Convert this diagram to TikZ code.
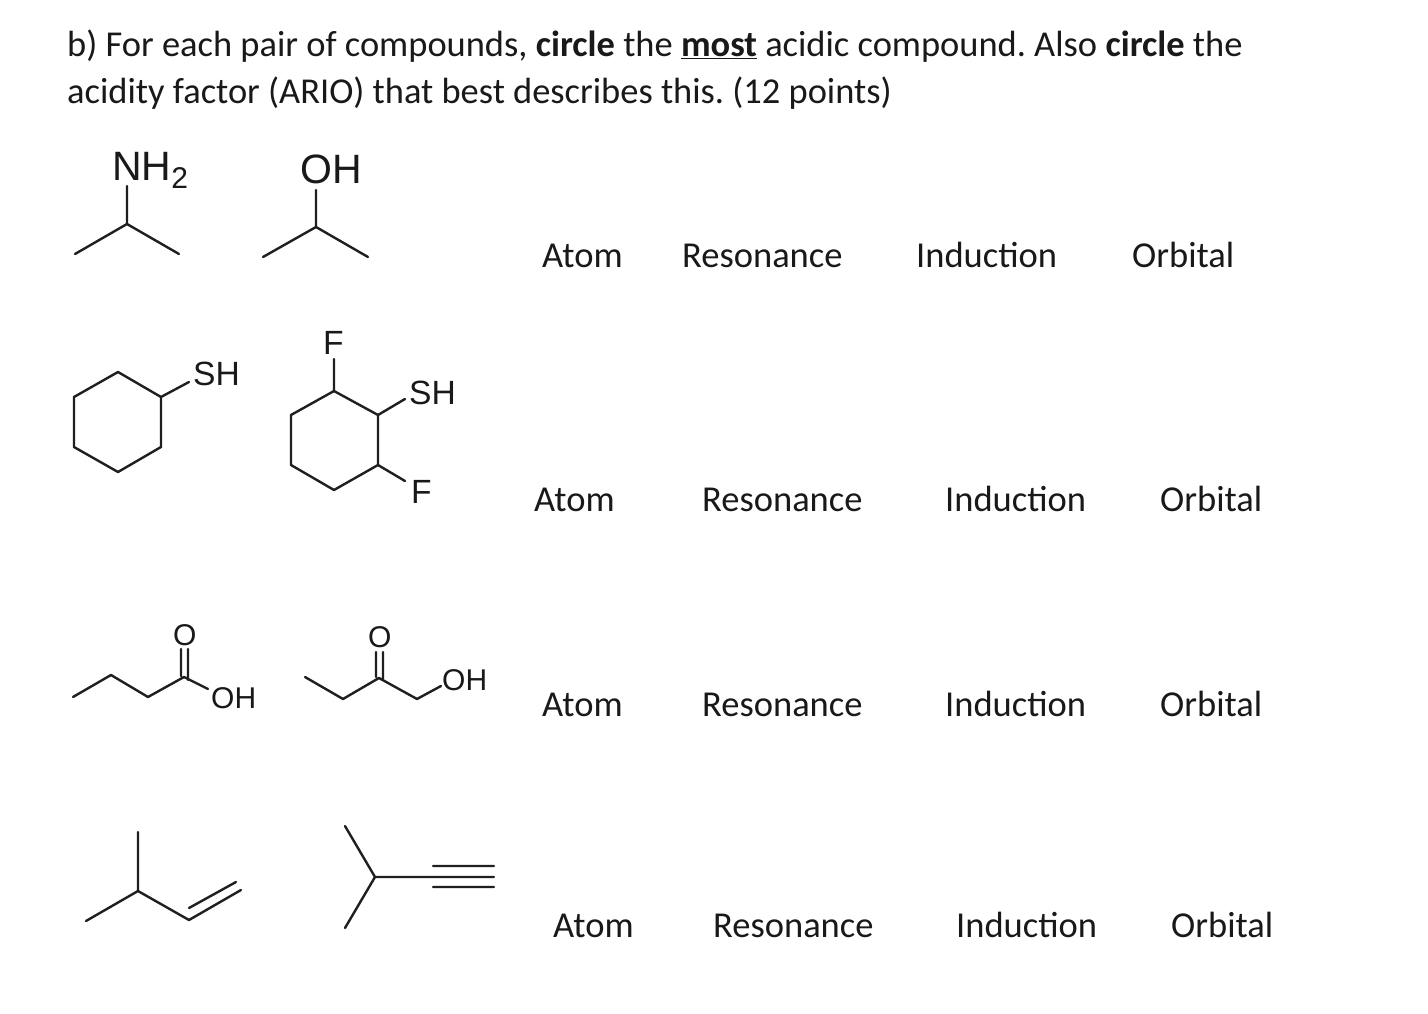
\documentclass[tikz,border=0pt]{standalone}
\usepackage{fontspec}
\setmainfont{Carlito}
\newfontfamily\chemfont{Liberation Sans}
\frenchspacing
\tikzset{
  bond/.style={line width=2.4pt,line cap=round,line join=round,draw=black!88},
  body/.style={inner sep=0pt,anchor=base west,font=\fontsize{36.45}{42}\selectfont,text=black!90},
  factor/.style={inner sep=0pt,anchor=base west,font=\fontsize{36.5}{42}\selectfont,text=black!90},
  atomlarge/.style={inner sep=0pt,anchor=base west,font=\chemfont\fontsize{41}{46}\selectfont,text=black!90},
  atomsmall/.style={inner sep=0pt,anchor=base west,font=\chemfont\fontsize{33.6}{38}\selectfont,text=black!90},
  atomtiny/.style={inner sep=0pt,anchor=base west,font=\chemfont\fontsize{30}{36}\selectfont,text=black!90},
}
\begin{document}
\begin{tikzpicture}[x=1pt,y=-1pt]
\useasboundingbox[fill=white] (0,0) rectangle (1428,1014);
% heading
\node[body] (line1) at (67,57) {b) For each pair of compounds, \textbf{circle} the \textbf{\underline{most}} acidic compound. Also \textbf{circle} the};
\node[body] (line2) at (67,104) {acidity factor (ARIO) that best describes this. (12 points)};
% row 1
\node[atomlarge] (nh) at (112,181) {NH\raisebox{-8pt}{\fontsize{30}{30}\selectfont 2}};
\node[atomlarge] (oh) at (300,184) {OH};
\coordinate (a1) at (127,224); \coordinate (a2) at (127,186); \coordinate (a3) at (75,254); \coordinate (a4) at (179,254);
\draw[bond] (a2)--(a1)--(a3) (a1)--(a4);
\coordinate (b1) at (316,227); \coordinate (b2) at (316,190); \coordinate (b3) at (263,257); \coordinate (b4) at (368,257);
\draw[bond] (b2)--(b1)--(b3) (b1)--(b4);
% row 2
\node[atomsmall] (sh1) at (193,385) {SH};
\coordinate (c1) at (118,372); \coordinate (c2) at (161,397); \coordinate (c3) at (161,447);
\coordinate (c4) at (118,472); \coordinate (c5) at (74,447); \coordinate (c6) at (74,397); \coordinate (c7) at (189,382);
\draw[bond] (c1)--(c2)--(c3)--(c4)--(c5)--(c6)--cycle (c2)--(c7);
\node[atomsmall] (f1) at (323,354) {F};
\node[atomsmall] (sh2) at (409,404) {SH};
\node[atomsmall] (f2) at (411,503) {F};
\coordinate (d1) at (334,391); \coordinate (d2) at (378,415); \coordinate (d3) at (378,465);
\coordinate (d4) at (334,490); \coordinate (d5) at (291,465); \coordinate (d6) at (291,415);
\coordinate (d7) at (334,359); \coordinate (d8) at (405,399); \coordinate (d9) at (405,481);
\draw[bond] (d1)--(d2)--(d3)--(d4)--(d5)--(d6)--cycle (d1)--(d7) (d2)--(d8) (d3)--(d9);
% row 3
\node[atomtiny] (o1) at (173,645) {O};
\node[atomtiny] (oh1) at (211,708) {OH};
\coordinate (e1) at (73,697); \coordinate (e2) at (111,675); \coordinate (e3) at (148,697); \coordinate (e4) at (184,677); \coordinate (e5) at (208,689);
\coordinate (e6) at (181,649); \coordinate (e7) at (181,676); \coordinate (e8) at (188,649); \coordinate (e9) at (188,680);
\draw[bond] (e1)--(e2)--(e3)--(e4)--(e5) (e6)--(e7) (e8)--(e9);
\node[atomtiny] (o2) at (368,647) {O};
\node[atomtiny] (oh2) at (442,690) {OH};
\coordinate (g1) at (305,677); \coordinate (g2) at (343,699); \coordinate (g3) at (379,678); \coordinate (g4) at (417,699); \coordinate (g5) at (441,686);
\coordinate (g6) at (376,652); \coordinate (g7) at (376,677); \coordinate (g8) at (383,652); \coordinate (g9) at (383,680);
\draw[bond] (g1)--(g2)--(g3)--(g4)--(g5) (g6)--(g7) (g8)--(g9);
% row 4
\coordinate (h1) at (138,832); \coordinate (h2) at (138,891); \coordinate (h3) at (86,921); \coordinate (h4) at (189,920);
\coordinate (h5) at (241,890); \coordinate (h6) at (189,908); \coordinate (h7) at (236,882);
\draw[bond] (h1)--(h2)--(h3) (h2)--(h4)--(h5) (h6)--(h7);
\coordinate (i1) at (345,826); \coordinate (i2) at (375,877); \coordinate (i3) at (345,928); \coordinate (i4) at (494,877);
\coordinate (i5) at (433,866); \coordinate (i6) at (494,866); \coordinate (i7) at (433,887); \coordinate (i8) at (494,887);
\draw[bond] (i1)--(i2)--(i3) (i2)--(i4) (i5)--(i6) (i7)--(i8);
% factors
\node[factor] (r1a) at (542,267) {Atom};
\node[factor] (r1r) at (682,267) {Resonance};
\node[factor] (r1i) at (916,267) {Induction};
\node[factor] (r1o) at (1132,267) {Orbital};
\node[factor] (r2a) at (534,511) {Atom};
\node[factor] (r2r) at (702,511) {Resonance};
\node[factor] (r2i) at (945,511) {Induction};
\node[factor] (r2o) at (1160,511) {Orbital};
\node[factor] (r3a) at (542,716) {Atom};
\node[factor] (r3r) at (702,716) {Resonance};
\node[factor] (r3i) at (945,716) {Induction};
\node[factor] (r3o) at (1160,716) {Orbital};
\node[factor] (r4a) at (553,937) {Atom};
\node[factor] (r4r) at (713,937) {Resonance};
\node[factor] (r4i) at (956,937) {Induction};
\node[factor] (r4o) at (1171,937) {Orbital};
\end{tikzpicture}
\end{document}
